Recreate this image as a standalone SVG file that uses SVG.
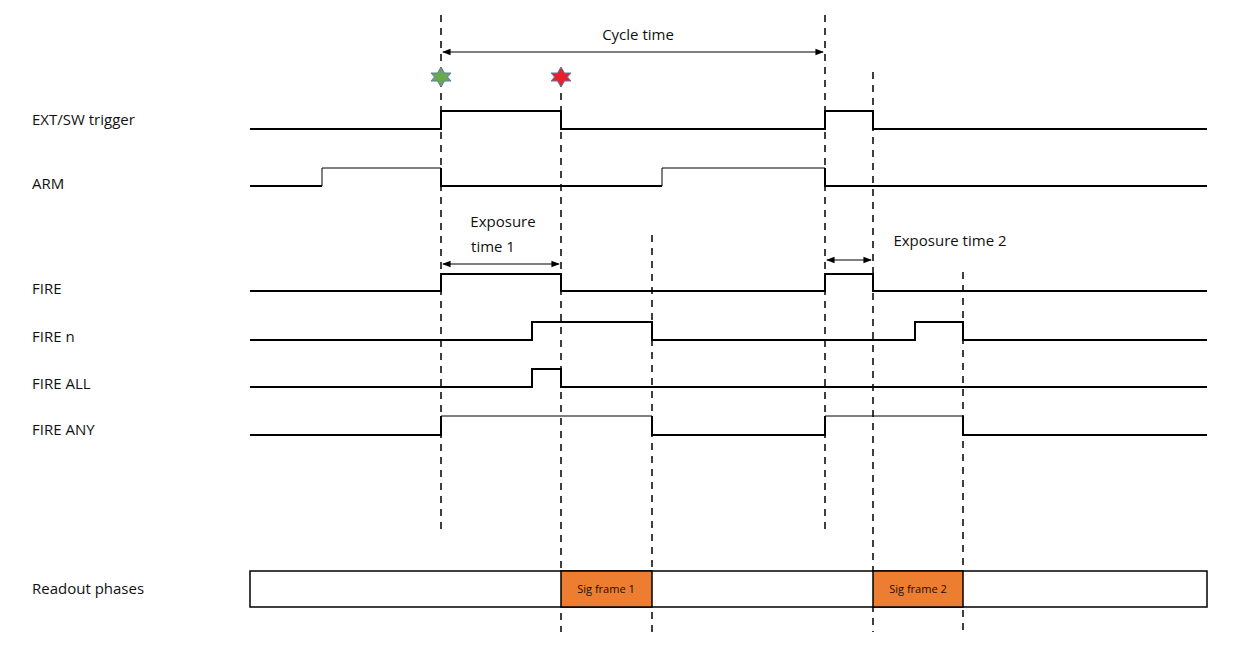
<svg xmlns="http://www.w3.org/2000/svg" width="1257" height="652" viewBox="0 0 1257 652">
<style>
text{font-family:"Open Sans","Liberation Sans",sans-serif;font-size:15px;fill:#111}
.s{fill:none;stroke:#000;stroke-width:2}
.t{fill:none;stroke:#000;stroke-width:1}
.d{stroke:#000;stroke-width:1.5;stroke-dasharray:7,6}
.a{stroke:#000;stroke-width:1.2;marker-start:url(#ah);marker-end:url(#ah)}
.sm{font-size:11px}
</style>
<defs><marker id="ah" viewBox="0 0 10 10" refX="9" refY="5" markerWidth="7" markerHeight="7" orient="auto-start-reverse"><path d="M0,1 L10,5 L0,9 z" fill="#000"/></marker></defs>
<rect width="1257" height="652" fill="#fff"/>
<g id="labels">
<text x="32" y="125">EXT/SW  trigger</text>
<text x="32" y="189">ARM</text>
<text x="32" y="294">FIRE</text>
<text x="32" y="342">FIRE n</text>
<text x="32" y="389">FIRE ALL</text>
<text x="32" y="435">FIRE ANY</text>
<text x="32" y="594">Readout phases</text>
</g>
<g id="connectors">
<line class="d" x1="441" y1="15" x2="441" y2="530"/>
<line class="d" x1="561" y1="80" x2="561" y2="632"/>
<line class="d" x1="652" y1="235" x2="652" y2="632"/>
<line class="d" x1="825" y1="15" x2="825" y2="530"/>
<line class="d" x1="873" y1="72" x2="873" y2="632"/>
<line class="d" x1="963" y1="272" x2="963" y2="632"/>
<line class="a" x1="443" y1="52" x2="823" y2="52"/>
<line class="a" x1="443" y1="264" x2="559" y2="264"/>
<line class="a" x1="827" y1="260" x2="871" y2="260"/>
</g>
<g id="annotations">
<text x="638" y="40" text-anchor="middle">Cycle time</text>
<text x="503" y="227" text-anchor="middle">Exposure</text>
<text x="493" y="252" text-anchor="middle">time 1</text>
<text x="950" y="246" text-anchor="middle">Exposure time 2</text>
</g>
<g id="stars">
<polygon points="441,67 444.5,73 451,73 447.5,77 451,81 444.5,81 441,87 437.5,81 431,81 434.5,77 431,73 437.5,73" fill="#6aa84f" stroke="#5b7bb0" stroke-width="1"/>
<polygon points="561,67 564.5,73 571,73 567.5,77 571,81 564.5,81 561,87 557.5,81 551,81 554.5,77 551,73 557.5,73" fill="#e8202a" stroke="#5b7bb0" stroke-width="1"/>
</g>
<g id="ext">
<polyline class="s" points="250,129 441,129 441,111 561,111 561,129 825,129 825,111 873,111 873,129 1207,129"/>
</g>
<g id="arm">
<polyline class="s" points="250,186 322,186"/>
<polyline class="t" points="322,186 322,168 441,168"/>
<polyline class="s" points="441,168 441,186 662,186"/>
<polyline class="t" points="662,186 662,168 825,168"/>
<polyline class="s" points="825,168 825,186 1207,186"/>
</g>
<g id="fire">
<polyline class="s" points="250,291 441,291 441,274 561,274 561,291 825,291 825,274 873,274 873,291 1207,291"/>
</g>
<g id="firen">
<polyline class="s" points="250,340 532,340 532,322 652,322 652,340 915,340 915,322 963,322 963,340 1207,340"/>
</g>
<g id="fireall">
<polyline class="s" points="250,387 532,387 532,369 561,369 561,387 1207,387"/>
</g>
<g id="fireany">
<polyline class="s" points="250,435 441,435 441,416"/>
<line class="t" x1="441" y1="416" x2="652" y2="416"/>
<polyline class="s" points="652,416 652,435 825,435 825,416"/>
<line class="t" x1="825" y1="416" x2="963" y2="416"/>
<polyline class="s" points="963,416 963,435 1207,435"/>
</g>
<g id="readout">
<rect x="250" y="571" width="957" height="36" fill="#fff" stroke="#000" stroke-width="1.5"/>
<rect x="561" y="571" width="91" height="36" fill="#ed7d31" stroke="#000" stroke-width="1.5"/>
<rect x="873" y="571" width="90" height="36" fill="#ed7d31" stroke="#000" stroke-width="1.5"/>
<text class="sm" x="606" y="593" text-anchor="middle">Sig frame 1</text>
<text class="sm" x="918" y="593" text-anchor="middle">Sig frame 2</text>
</g>
</svg>
